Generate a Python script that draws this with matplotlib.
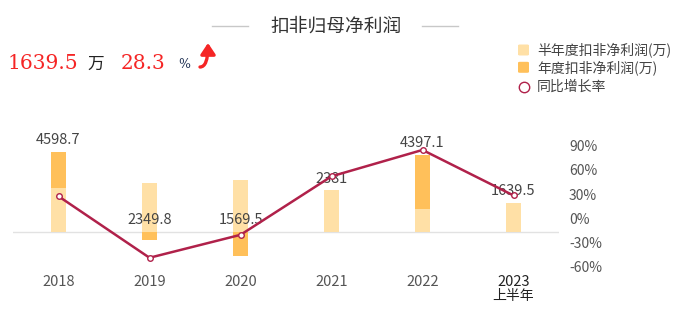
import matplotlib
matplotlib.use("Agg")
import matplotlib.pyplot as plt
from matplotlib.lines import Line2D
from matplotlib.patches import FancyBboxPatch, FancyArrowPatch
import numpy as np

plt.rcParams['font.family'] = ['Noto Sans CJK SC', 'DejaVu Sans']

years = ['2018', '2019', '2020', '2021', '2022', '2023']
half_profit = [2540, 2820, 2960, 2381, 1320, 1639.5]      # 半年度扣非净利润(万)
year_profit = [4598.7, 2349.8, 1569.5, 2381, 4397.1, None]  # 年度扣非净利润(万)
growth = [27.3, -48.9, -20.5, 52.0, 84.7, 28.3]          # 同比增长率 %
right_ticks = [-60, -30, 0, 30, 60, 90]

LIGHT = '#FFE0A6'
ORANGE = '#FFC05A'
LINE = '#B0214A'
W, H = 675, 311


def fx(px):
    return px / W


def fy(py):
    return 1 - py / H


fig = plt.figure(figsize=(6.75, 3.11), dpi=100)
ax_top, ax_bot = 100, 280
ax = fig.add_axes([fx(13), fy(ax_bot), (559 - 13) / W, (ax_bot - ax_top) / H])

x = np.arange(len(years))
bw = 0.165
ax.bar(x, half_profit, width=bw, color=LIGHT, zorder=2)

# annual bar drawn as difference stacked on the half-year bar
for i, (h, a) in enumerate(zip(half_profit, year_profit)):
    if a is None or a == h:
        continue
    d = a - h
    bottom = h if d > 0 else 0
    ax.bar(x[i], d, width=bw, bottom=bottom, color=ORANGE, zorder=2)

per_px = 57.3
ax.set_ylim(-(ax_bot - 232) * per_px, (232 - ax_top) * per_px)
ax.set_xlim(-0.5, len(years) - 0.5)
ax.axhline(0, color='#e2e2e2', lw=1, zorder=1)

for i, (h, a) in enumerate(zip(half_profit, year_profit)):
    val = h if a is None else a
    ypos = h if a is None else (a if a >= h else 0)
    txt = ('%g' % val)
    ax.annotate(txt, (x[i], ypos), xytext=(0, 8.6), textcoords='offset points',
                ha='center', va='center', fontsize=10.5, color='#444444', zorder=3)

for s in ax.spines.values():
    s.set_visible(False)
ax.set_yticks([])
ax.set_xticks([])

# x labels
xt = ax.get_xaxis_transform()
for i, y in enumerate(years):
    if i == len(years) - 1:
        ax.text(x[i], (ax_bot - 282.5) / (ax_bot - ax_top), y, transform=xt, ha='center',
                va='center', fontsize=10.5, color='#222222')
        ax.text(x[i], (ax_bot - 296) / (ax_bot - ax_top), '上半年', transform=xt, ha='center',
                va='center', fontsize=10, color='#222222')
    else:
        ax.text(x[i], (ax_bot - 282) / (ax_bot - ax_top), y, transform=xt, ha='center',
                va='center', fontsize=10.5, color='#555555')

# growth line on right axis
ax2 = ax.twinx()
pp = 0.807
ax2.set_ylim(-(ax_bot - 218.3) / pp, (218.3 - ax_top) / pp)
ax2.plot(x, growth, color=LINE, lw=1.8, marker='o', ms=4.0, mfc='white',
         mec=LINE, mew=1.0, zorder=4)
ax2.set_yticks(right_ticks)
ax2.set_yticklabels(['%d%%' % t for t in right_ticks])
ax2.tick_params(axis='y', length=0, pad=7.2, labelsize=10, labelcolor='#555555')
for s in ax2.spines.values():
    s.set_visible(False)

# title
fig.text(fx(336), fy(25.7), '扣非归母净利润', ha='center', va='center', fontsize=13.5, color='#333333')
fig.add_artist(Line2D([fx(212), fx(248)], [fy(26), fy(26)], color='#c8c8c8', lw=1))
fig.add_artist(Line2D([fx(422), fx(458)], [fy(26), fy(26)], color='#c8c8c8', lw=1))

# header numbers
RED = '#F52525'
fig.text(fx(7), fy(64), '1639.5', ha='left', va='center', fontsize=14.5,
         family='DejaVu Serif', color=RED)
fig.text(fx(87), fy(64), '万', ha='left', va='center', fontsize=12, color='#222222')
fig.text(fx(121), fy(64), '28.3', ha='left', va='center', fontsize=14.5,
         family='DejaVu Serif', color=RED)
fig.text(fx(178), fy(65), '%', ha='left', va='center', fontsize=9,
         family='DejaVu Serif', color='#223355')
fig.add_artist(FancyArrowPatch(
    (fx(200), fy(67)), (fx(208), fy(43)), transform=fig.transFigure,
    arrowstyle='-|>,head_width=0.4,head_length=0.6', mutation_scale=11,
    connectionstyle='angle3,angleA=0,angleB=90', shrinkA=0, shrinkB=0,
    color=RED, lw=2.4))

# legend
leg_rows = [(50, LIGHT, '半年度扣非净利润(万)'), (67.3, ORANGE, '年度扣非净利润(万)')]
for cy, col, lab in leg_rows:
    fig.add_artist(FancyBboxPatch((fx(518), fy(cy + 5.5)), 11 / W, 11 / H,
                                  boxstyle='round,pad=0,rounding_size=0.003',
                                  transform=fig.transFigure, color=col, lw=0))
    fig.text(fx(537), fy(cy), lab, ha='left', va='center', fontsize=10, color='#444444')
fig.add_artist(Line2D([fx(523.5)], [fy(86.7)], marker='o', ms=7.5, mfc='white',
                      mec=LINE, mew=1.0, transform=fig.transFigure))
fig.text(fx(537), fy(86.7), '同比增长率', ha='left', va='center', fontsize=10, color='#444444')

fig.savefig('out.png', dpi=100)
